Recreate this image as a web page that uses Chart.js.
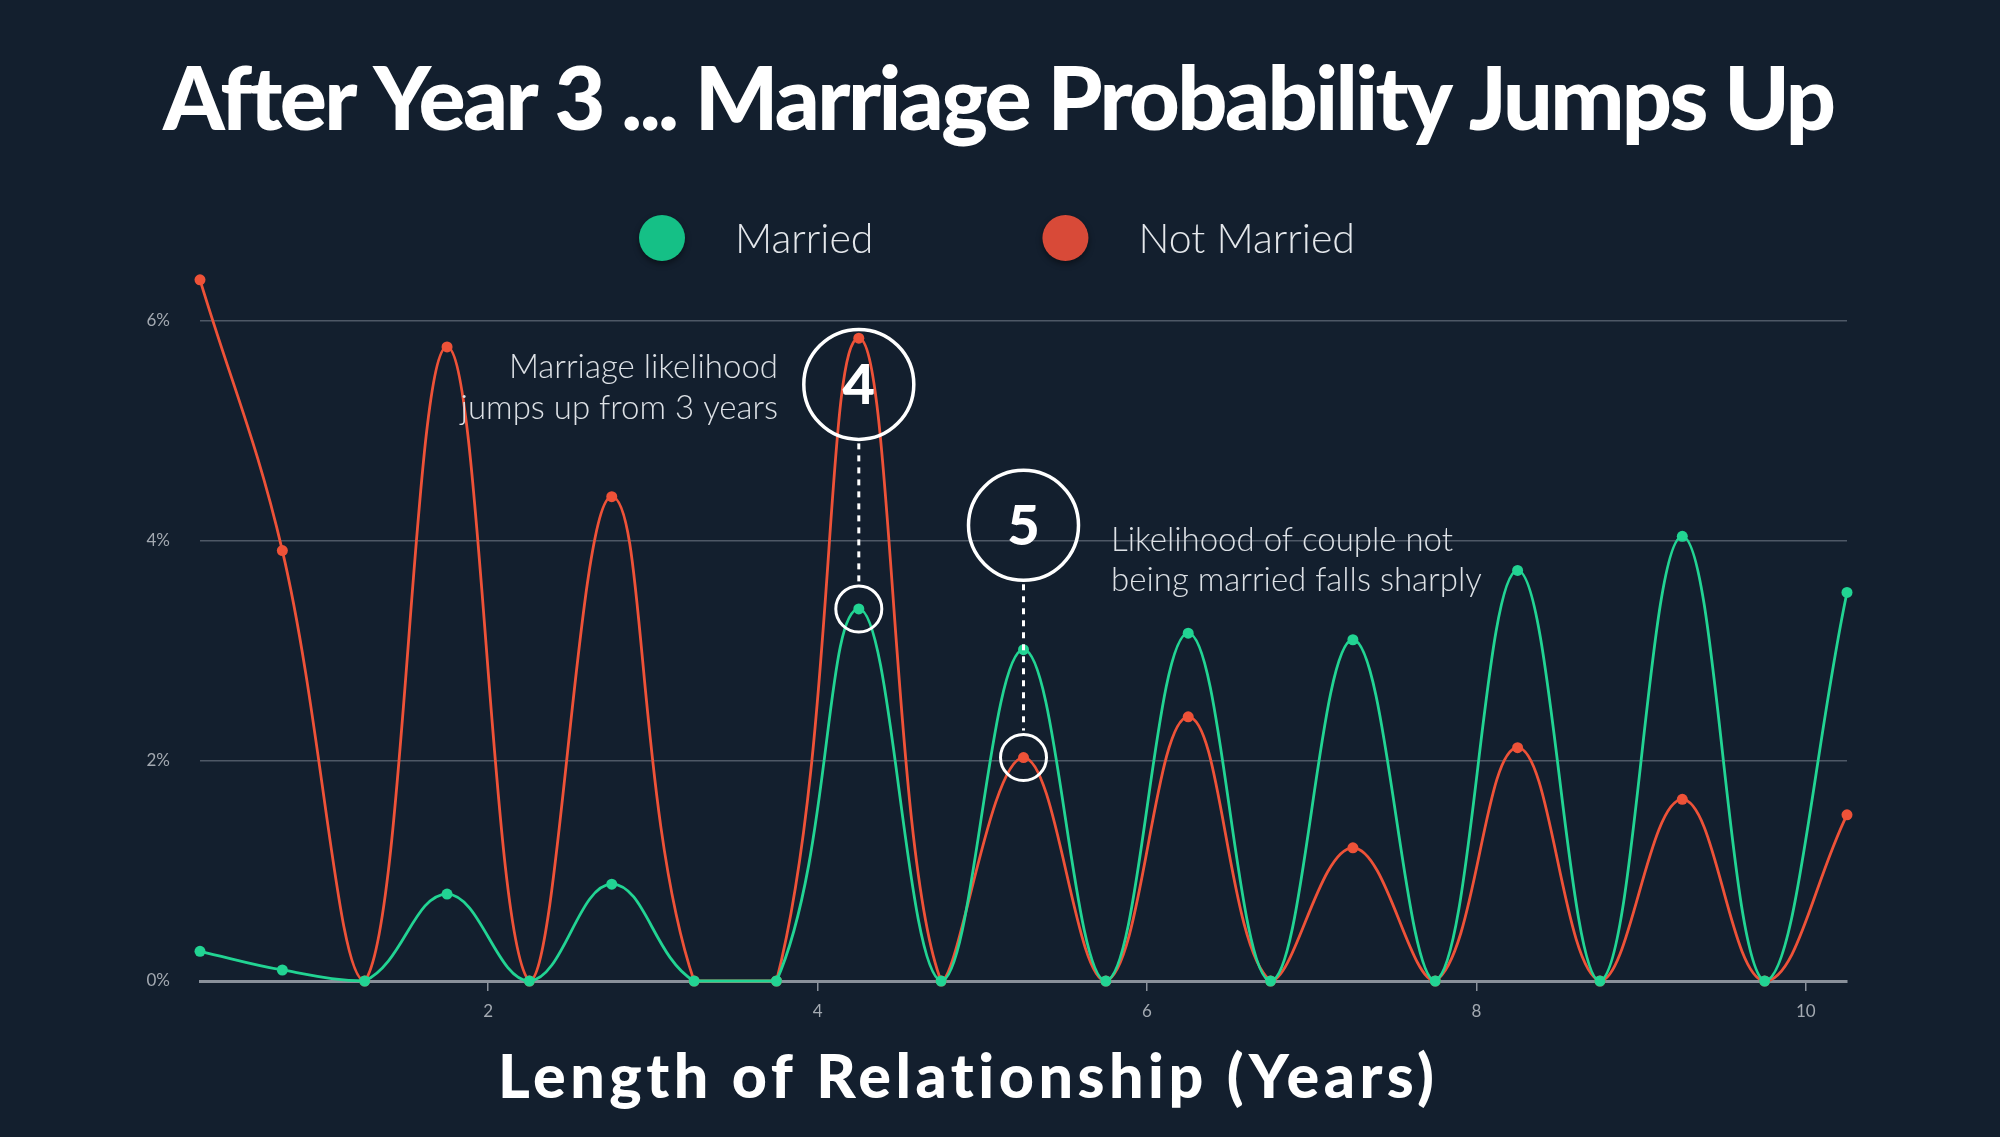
<!DOCTYPE html>
<html lang="en">
<head>
  <meta charset="utf-8">
  <title>After Year 3 ... Marriage Probability Jumps Up</title>
  <script src="https://cdn.jsdelivr.net/npm/chart.js@4.4.1/dist/chart.umd.min.js"></script>
  <style>
    html, body { margin: 0; padding: 0; background: #131f2e; }
  </style>
</head>

<body>
  <canvas id="chart" width="2000" height="1137"></canvas>
  <script>
    // values (percent)
    const years = [0.25, 0.75, 1.25, 1.75, 2.25, 2.75, 3.25, 3.75, 4.25, 4.75, 5.25,
                   5.75, 6.25, 6.75, 7.25, 7.75, 8.25, 8.75, 9.25, 9.75, 10.25];
    const married = [0.27, 0.10, 0, 0.79, 0, 0.88, 0, 0, 3.38, 0, 3.01,
                     0, 3.16, 0, 3.10, 0, 3.73, 0, 4.04, 0, 3.53];
    const notMarried = [6.37, 3.91, 0, 5.76, 0, 4.40, 0, 0, 5.84, 0, 2.03,
                        0, 2.40, 0, 1.21, 0, 2.12, 0, 1.65, 0, 1.51];
    const xTicks = [2, 4, 6, 8, 10];
    const yTicks = [0, 2, 4, 6];

    // callouts: number, year, height of the big ring (%), which series the small ring marks
    const calloutNumbers = ['4', '5'];
    const calloutYears = [4.25, 5.25];
    const calloutRingY = [5.42, 4.14];
    const calloutSeries = [0, 1];
    const noteLeft = ['Marriage likelihood', 'jumps up from 3 years'];
    const noteRight = ['Likelihood of couple not', 'being married falls sharply'];

    const GREEN = '#22d493';
    const RED = '#ee5238';
    const LEGEND_GREEN = '#15c086';
    const LEGEND_RED = '#d84a38';
    const BG = '#131f2e';

    function fitSpacing(ctx, text, width) {
      ctx.letterSpacing = '0px';
      const w = ctx.measureText(text).width;
      return (width - w) / (text.length - 1);
    }

    const decor = {
      id: 'decor',
      beforeDraw(chart) {
        const ctx = chart.ctx;
        ctx.save();
        ctx.fillStyle = BG;
        ctx.fillRect(0, 0, chart.width, chart.height);
        ctx.restore();
      },
      afterDatasetsDraw(chart) {
        const ctx = chart.ctx;
        const xs = chart.scales.x, ys = chart.scales.y;
        ctx.save();
        calloutNumbers.forEach((num, i) => {
          const idx = years.indexOf(calloutYears[i]);
          const pt = chart.getDatasetMeta(calloutSeries[i]).data[idx];
          const cx = xs.getPixelForValue(calloutYears[i]);
          const cy = ys.getPixelForValue(calloutRingY[i]);
          const R = 55, r = 23;
          ctx.strokeStyle = '#ffffff';
          ctx.lineWidth = 3.5;
          ctx.beginPath(); ctx.arc(cx, cy, R, 0, Math.PI * 2); ctx.stroke();
          ctx.lineWidth = 3;
          ctx.beginPath(); ctx.arc(pt.x, pt.y, r, 0, Math.PI * 2); ctx.stroke();
          ctx.setLineDash([6, 6]);
          ctx.beginPath(); ctx.moveTo(cx, cy + R + 4); ctx.lineTo(pt.x, pt.y - r - 4); ctx.stroke();
          ctx.setLineDash([]);
          ctx.fillStyle = '#ffffff';
          ctx.font = '900 56px Lato';
          ctx.textAlign = 'center';
          ctx.textBaseline = 'middle';
          ctx.fillText(num, cx, cy + 2);
        });
        ctx.fillStyle = '#dde1e6';
        ctx.font = '300 33px Lato';
        ctx.textBaseline = 'middle';
        ctx.textAlign = 'right';
        ctx.fillText(noteLeft[0], 778, 367);
        ctx.fillText(noteLeft[1], 778, 408);
        ctx.textAlign = 'left';
        ctx.fillText(noteRight[0], 1111, 540);
        ctx.fillText(noteRight[1], 1111, 580);
        ctx.restore();
      },
      afterDraw(chart) {
        const ctx = chart.ctx;
        ctx.save();
        // main title
        const title = 'After Year 3 ... Marriage Probability Jumps Up';
        ctx.fillStyle = '#ffffff';
        ctx.font = '900 88px Lato';
        ctx.textAlign = 'left';
        ctx.textBaseline = 'alphabetic';
        ctx.letterSpacing = fitSpacing(ctx, title, 1671) + 'px';
        ctx.fillText(title, 163, 130);

        // legend
        ctx.letterSpacing = '0px';
        ctx.font = '300 41px Lato';
        ctx.textBaseline = 'middle';
        let x = 639;
        const legendColors = [LEGEND_GREEN, LEGEND_RED];
        chart.data.datasets.forEach((ds, i) => {
          ctx.save();
          ctx.shadowColor = 'rgba(0,0,0,0.45)';
          ctx.shadowBlur = 6;
          ctx.shadowOffsetY = 3;
          ctx.fillStyle = legendColors[i];
          ctx.beginPath(); ctx.arc(x + 23, 238, 23, 0, Math.PI * 2); ctx.fill();
          ctx.restore();
          ctx.fillStyle = '#e4e7eb';
          ctx.fillText(ds.label, x + 96, 240);
          x = x + 96 + ctx.measureText(ds.label).width + 169;
        });

        // x axis title
        const xt = 'Length of Relationship (Years)';
        ctx.fillStyle = '#ffffff';
        ctx.font = '900 61px Lato';
        ctx.textBaseline = 'middle';
        ctx.letterSpacing = fitSpacing(ctx, xt, 937) + 'px';
        ctx.fillText(xt, 498, 1078);
        ctx.restore();
      }
    };

    const ctx = document.getElementById('chart').getContext('2d');
    new Chart(ctx, {
      type: 'line',
      data: {
        datasets: [{
          label: 'Married',
          data: years.map((y, i) => ({ x: y, y: married[i] })),
          borderColor: GREEN,
          backgroundColor: GREEN,
          borderWidth: 2.8,
          pointRadius: 5.5,
          pointBorderWidth: 0,
          tension: 0.4,
          clip: false
        }, {
          label: 'Not Married',
          data: years.map((y, i) => ({ x: y, y: notMarried[i] })),
          borderColor: RED,
          backgroundColor: RED,
          borderWidth: 2.8,
          pointRadius: 5.5,
          pointBorderWidth: 0,
          tension: 0.4,
          clip: false
        }]
      },
      options: {
        responsive: false,
        animation: false,
        devicePixelRatio: 1,
        layout: { padding: { top: 271, right: 153, left: 0, bottom: 0 } },
        plugins: { legend: { display: false }, tooltip: { enabled: false } },
        scales: {
          x: {
            type: 'linear',
            min: 0.25,
            max: 10.25,
            afterBuildTicks: (s) => { s.ticks = xTicks.map(v => ({ value: v })); },
            afterFit: (s) => { s.height = 156; },
            grid: { drawOnChartArea: false, drawTicks: true, tickLength: 10, color: '#8a919b', lineWidth: 1.5 },
            border: { display: true, color: '#8a919b', width: 3 },
            ticks: { color: '#a3a9b1', font: { family: 'Lato', size: 17 }, padding: 10, maxRotation: 0 }
          },
          y: {
            min: 0,
            max: 6.45,
            afterBuildTicks: (s) => { s.ticks = yTicks.map(v => ({ value: v })); },
            afterFit: (s) => { s.width = 200; },
            grid: { drawTicks: false, color: (c) => c.tick && c.tick.value === 0 ? 'rgba(0,0,0,0)' : '#4e5866', lineWidth: 1.5 },
            border: { display: false },
            ticks: { color: '#a3a9b1', font: { family: 'Lato', size: 17 }, padding: 30, callback: (v) => v + '%' }
          }
        }
      },
      plugins: [decor]
    });
  </script>
</body>

</html>
